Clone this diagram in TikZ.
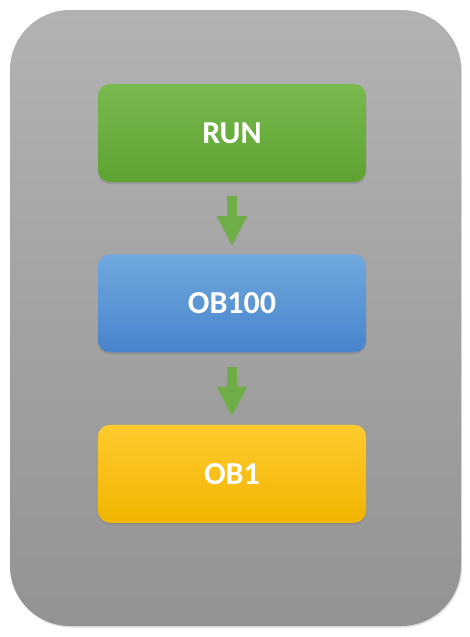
\documentclass[tikz,border=0pt]{standalone}
\usepackage{fontspec}
\setmainfont{Carlito}
\usetikzlibrary{positioning,arrows.meta,shadows}

\definecolor{panelTop}{HTML}{B2B2B2}
\definecolor{panelBot}{HTML}{939393}
\definecolor{runTop}{HTML}{78B94E}
\definecolor{runBot}{HTML}{5EA332}
\definecolor{obTop}{HTML}{70A9DE}
\definecolor{obBot}{HTML}{4784CC}
\definecolor{obiTop}{HTML}{FFCA2E}
\definecolor{obiBot}{HTML}{F0B500}
\definecolor{flowGreen}{HTML}{6FAD46}

\begin{document}
\begin{tikzpicture}[x=1pt,y=1pt,
  panel/.style={rounded corners=60pt,top color=panelTop,bottom color=panelBot,
    minimum width=451pt,minimum height=616pt,
    drop shadow={shadow xshift=1pt,shadow yshift=-1.5pt,opacity=0.25}},
  blk/.style={rounded corners=12pt,minimum width=268pt,minimum height=98pt,
    text=white,font=\fontsize{32}{38}\selectfont\bfseries,
    drop shadow={shadow xshift=0pt,shadow yshift=-2pt,opacity=0.45}},
  flow/.style={draw=flowGreen,line width=10pt,
    -{Triangle[width=28pt,length=30pt]},shorten <=14pt,shorten >=8pt}]
\useasboundingbox (0,0) rectangle (470,-637);
\node[panel] (panel) at (235.5,-318) {};
\node[blk,top color=runTop,bottom color=runBot] (run) at (232,-133) {RUN};
\node[blk,top color=obTop,bottom color=obBot,below=72pt of run] (ob100) {OB100};
\node[blk,top color=obiTop,bottom color=obiBot,below=72pt of ob100] (ob1) {OB1};
\draw[flow] (run) -- (ob100);
\draw[flow] (ob100) -- (ob1);
\end{tikzpicture}
\end{document}
